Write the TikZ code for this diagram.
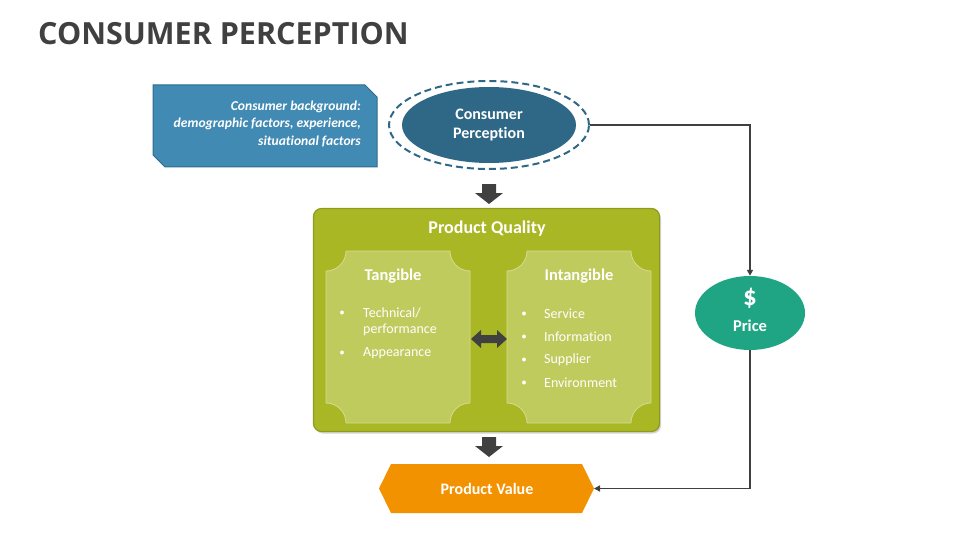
\documentclass[tikz,border=0pt]{standalone}
\usepackage{fontspec}
\setmainfont[Ligatures=CommonOff]{Carlito}
\newfontfamily\titlefont{Open Sans}
\usetikzlibrary{shapes.geometric,arrows.meta,shadows}
\definecolor{titlegray}{HTML}{404040}
\definecolor{bgblue}{HTML}{418AB3}
\definecolor{bgblueline}{HTML}{2F6C8F}
\definecolor{cpblue}{HTML}{2F6786}
\definecolor{pqgreen}{HTML}{A9B725}
\definecolor{pqgreenline}{HTML}{8E9C1E}
\definecolor{panelgreen}{HTML}{C0CB5E}
\definecolor{panelline}{HTML}{D3DB8F}
\definecolor{pvorange}{HTML}{F39200}
\definecolor{priceteal}{HTML}{20A584}
\definecolor{arrowgray}{HTML}{404040}
\tikzset{
  conn/.style={draw=arrowgray, line width=1.5pt},
  blockarrow/.style={fill=arrowgray, draw=none},
  wtext/.style={text=white, font=\bfseries, align=center, inner sep=0pt},
  bullettext/.style={text=white, font=\fontsize{14}{16}\selectfont, anchor=west, inner sep=0pt},
  dot/.style={text=white, font=\fontsize{10}{12}\selectfont, inner sep=0pt},
}
\begin{document}
\begin{tikzpicture}[x=1pt,y=-1pt]
\useasboundingbox (0,0) rectangle (960,540);
% title
\node[anchor=west, inner sep=0pt, text=titlegray, font=\titlefont\bfseries\fontsize{30.5}{34}\selectfont] (title) at (38,34) {CONSUMER PERCEPTION};

% consumer background box
\draw[fill=bgblue, draw=bgblueline, line width=1pt] (153,85) -- (365,85) -- (377,97) -- (377,167) -- (165,167) -- (153,155) -- cycle;
\node[anchor=east, align=right, text=white, inner sep=0pt, font=\bfseries\itshape\fontsize{13.6}{17.3}\selectfont] (bg) at (361,124) {Consumer background:\\demographic factors, experience,\\situational factors};

% consumer perception
\node[ellipse, draw=cpblue, dashed, dash pattern=on 7pt off 4pt, line width=2pt, minimum width=200pt, minimum height=88pt, inner sep=0pt] (cpouter) at (489,125) {};
\node[ellipse, fill=cpblue, minimum width=174pt, minimum height=76pt, inner sep=0pt, wtext, font=\bfseries\fontsize{16}{19}\selectfont] (cp) at (489,125) {Consumer\\Perception};

% block arrow 1
\fill[blockarrow] (482,184) -- (496,184) -- (496,193) -- (503,193) -- (489,204) -- (475,193) -- (482,193) -- cycle;

% product quality
\node[draw=pqgreenline, fill=pqgreen, line width=1.2pt, rounded corners=8pt, minimum width=346pt, minimum height=223pt, inner sep=0pt, drop shadow={shadow xshift=1.5pt, shadow yshift=-2pt, opacity=0.35}] (pq) at (486.5,320) {};
\node[wtext, font=\bfseries\fontsize{18}{20}\selectfont] (pqt) at (487,229) {Product Quality};

% panels
\def\panel#1#2#3#4{%
  \draw[fill=panelgreen, draw=panelline, line width=0.8pt]
   (#1+20,#2) -- (#3-20,#2)
   .. controls (#3-20,#2+11) and (#3-11,#2+20) .. (#3,#2+20)
   -- (#3,#4-20)
   .. controls (#3-11,#4-20) and (#3-20,#4-11) .. (#3-20,#4)
   -- (#1+20,#4)
   .. controls (#1+20,#4-11) and (#1+11,#4-20) .. (#1,#4-20)
   -- (#1,#2+20)
   .. controls (#1+11,#2+20) and (#1+20,#2+11) .. (#1+20,#2) -- cycle;}
\panel{326}{251}{470}{423}
\panel{507}{251}{651}{423}

\node[wtext, font=\bfseries\fontsize{16.5}{18}\selectfont] (tan) at (393,276) {Tangible};
\node[wtext, font=\bfseries\fontsize{16.5}{18}\selectfont] (intg) at (579,276) {Intangible};

\node[dot] (d1) at (342,313) {$\bullet$};
\node[bullettext] (t1) at (363,313) {Technical/};
\node[bullettext] (t1b) at (363,330) {performance};
\node[dot] (d2) at (342,353) {$\bullet$};
\node[bullettext] (t2) at (363,353) {Appearance};

\node[dot] (d3) at (524,314) {$\bullet$};
\node[bullettext] (i1) at (544,314) {Service};
\node[dot] (d4) at (524,337) {$\bullet$};
\node[bullettext] (i2) at (544,337) {Information};
\node[dot] (d5) at (524,360) {$\bullet$};
\node[bullettext] (i3) at (544,360) {Supplier};
\node[dot] (d6) at (524,383) {$\bullet$};
\node[bullettext] (i4) at (544,383) {Environment};

% double arrow
\fill[blockarrow] (471,339) -- (481,330) -- (481,335) -- (497,335) -- (497,330) -- (507,339) -- (497,348) -- (497,343) -- (481,343) -- (481,348) -- cycle;

% block arrow 2
\fill[blockarrow] (482,437) -- (496,437) -- (496,446) -- (503,446) -- (489,457) -- (475,446) -- (482,446) -- cycle;

% product value
\fill[pvorange] (379,488.5) -- (391,464) -- (582,464) -- (594,488.5) -- (582,513) -- (391,513) -- cycle;
\coordinate (pvR) at (594,488.5);
\node[wtext, font=\bfseries\fontsize{16}{18}\selectfont] (pv) at (487,488.5) {Product Value};

% price
\node[ellipse, fill=priceteal, minimum width=110pt, minimum height=74pt, inner sep=0pt] (price) at (750,313) {};
\node[wtext, font=\bfseries\fontsize{27}{28}\selectfont] (dollar) at (750,298) {\$};
\node[wtext, font=\bfseries\fontsize{16.5}{18}\selectfont] (pricet) at (750,326) {Price};

% connectors
\draw[conn, -{Triangle[length=6pt,width=6pt]}] (cpouter.east |- cp.east) -- (750,125) -- (price.north);
\draw[conn, -{Triangle[length=6pt,width=6pt]}] (price.south) -- (750,488.5) -- (pvR);
\end{tikzpicture}
\end{document}
